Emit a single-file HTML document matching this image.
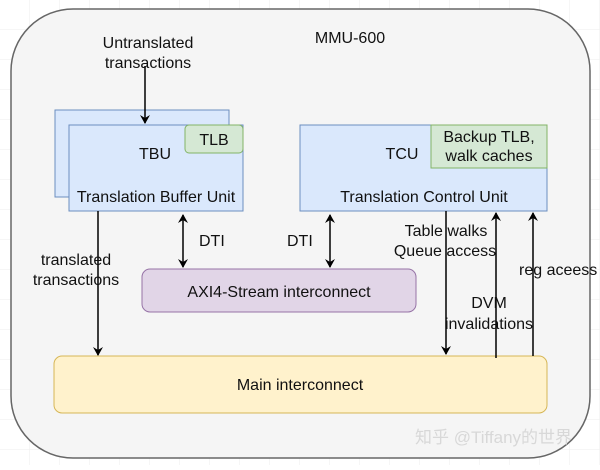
<!DOCTYPE html>
<html><head><style>
body{margin:0;width:600px;height:465px;overflow:hidden;background:#fff;font-family:"Liberation Sans","Noto Sans CJK SC",sans-serif;}
</style></head><body>
<svg width="600" height="465" xmlns="http://www.w3.org/2000/svg" font-family="Liberation Sans, Noto Sans CJK SC, sans-serif" font-size="16" fill="#111">
<defs>
<pattern id="g" width="30" height="30" patternUnits="userSpaceOnUse"><path d="M30 0V30H0" fill="none" stroke="#eee" stroke-width="1"/></pattern>
<marker id="a" markerWidth="10" markerHeight="10" refX="8" refY="5" orient="auto" markerUnits="userSpaceOnUse"><path d="M0,0 L9,5 L0,10 L3,5z" fill="#000"/></marker>
<marker id="b" markerWidth="10" markerHeight="10" refX="1" refY="5" orient="auto" markerUnits="userSpaceOnUse"><path d="M9,0 L0,5 L9,10 L6,5z" fill="#000"/></marker>
</defs>
<rect width="600" height="465" fill="url(#g)"/>
<rect x="11" y="9" width="579" height="449" rx="62" fill="#f5f5f5" stroke="#666" stroke-width="1.5"/>
<text x="350" y="43" text-anchor="middle">MMU-600</text>
<rect x="55" y="110" width="174" height="87" fill="#dae8fc" stroke="#6c8ebf"/>
<rect x="69" y="125" width="174" height="86" fill="#dae8fc" stroke="#6c8ebf"/>
<rect x="185" y="125" width="58" height="28" rx="4" fill="#d5e8d4" stroke="#82b366"/>
<text x="214" y="145" text-anchor="middle">TLB</text>
<text x="155" y="159" text-anchor="middle">TBU</text>
<text x="156" y="202" text-anchor="middle">Translation Buffer Unit</text>
<rect x="300" y="125" width="247" height="86" fill="#dae8fc" stroke="#6c8ebf"/>
<rect x="431" y="125" width="116" height="43" fill="#d5e8d4" stroke="#82b366"/>
<text x="489" y="142" text-anchor="middle">Backup TLB,</text>
<text x="489" y="161" text-anchor="middle">walk caches</text>
<text x="402" y="159" text-anchor="middle">TCU</text>
<text x="424" y="202" text-anchor="middle">Translation Control Unit</text>
<rect x="142" y="269" width="274" height="43" rx="8" fill="#e1d5e7" stroke="#9673a6"/>
<text x="279" y="297" text-anchor="middle">AXI4-Stream interconnect</text>
<rect x="54" y="356" width="493" height="57" rx="8" fill="#fff2cc" stroke="#d6b656"/>
<text x="300" y="390" text-anchor="middle">Main interconnect</text>
<g stroke="#000" stroke-width="1.5" fill="none">
<line x1="145" y1="66" x2="145" y2="123" marker-end="url(#a)"/>
<line x1="98" y1="211" x2="98" y2="355" marker-end="url(#a)"/>
<line x1="183" y1="215" x2="183" y2="267" marker-start="url(#b)" marker-end="url(#a)"/>
<line x1="330" y1="215" x2="330" y2="267" marker-start="url(#b)" marker-end="url(#a)"/>
<line x1="446" y1="211" x2="446" y2="354" marker-end="url(#a)"/>
<line x1="496" y1="358" x2="496" y2="213" marker-end="url(#a)"/>
<line x1="533" y1="356" x2="533" y2="213" marker-end="url(#a)"/>
</g>
<text x="148" y="48" text-anchor="middle">Untranslated</text>
<text x="148" y="68" text-anchor="middle">transactions</text>
<text x="76" y="265" text-anchor="middle">translated</text>
<text x="76" y="285" text-anchor="middle">transactions</text>
<text x="199" y="246">DTI</text>
<text x="287" y="246">DTI</text>
<text x="446" y="236" text-anchor="middle">Table walks</text>
<text x="445" y="256" text-anchor="middle">Queue access</text>
<text x="519" y="275">reg aceess</text>
<text x="489" y="308" text-anchor="middle">DVM</text>
<text x="489" y="329" text-anchor="middle">invalidations</text>
<text x="415" y="443" fill="#d8d8d8" font-size="17">知乎 @Tiffany的世界</text>
</svg>
</body></html>
